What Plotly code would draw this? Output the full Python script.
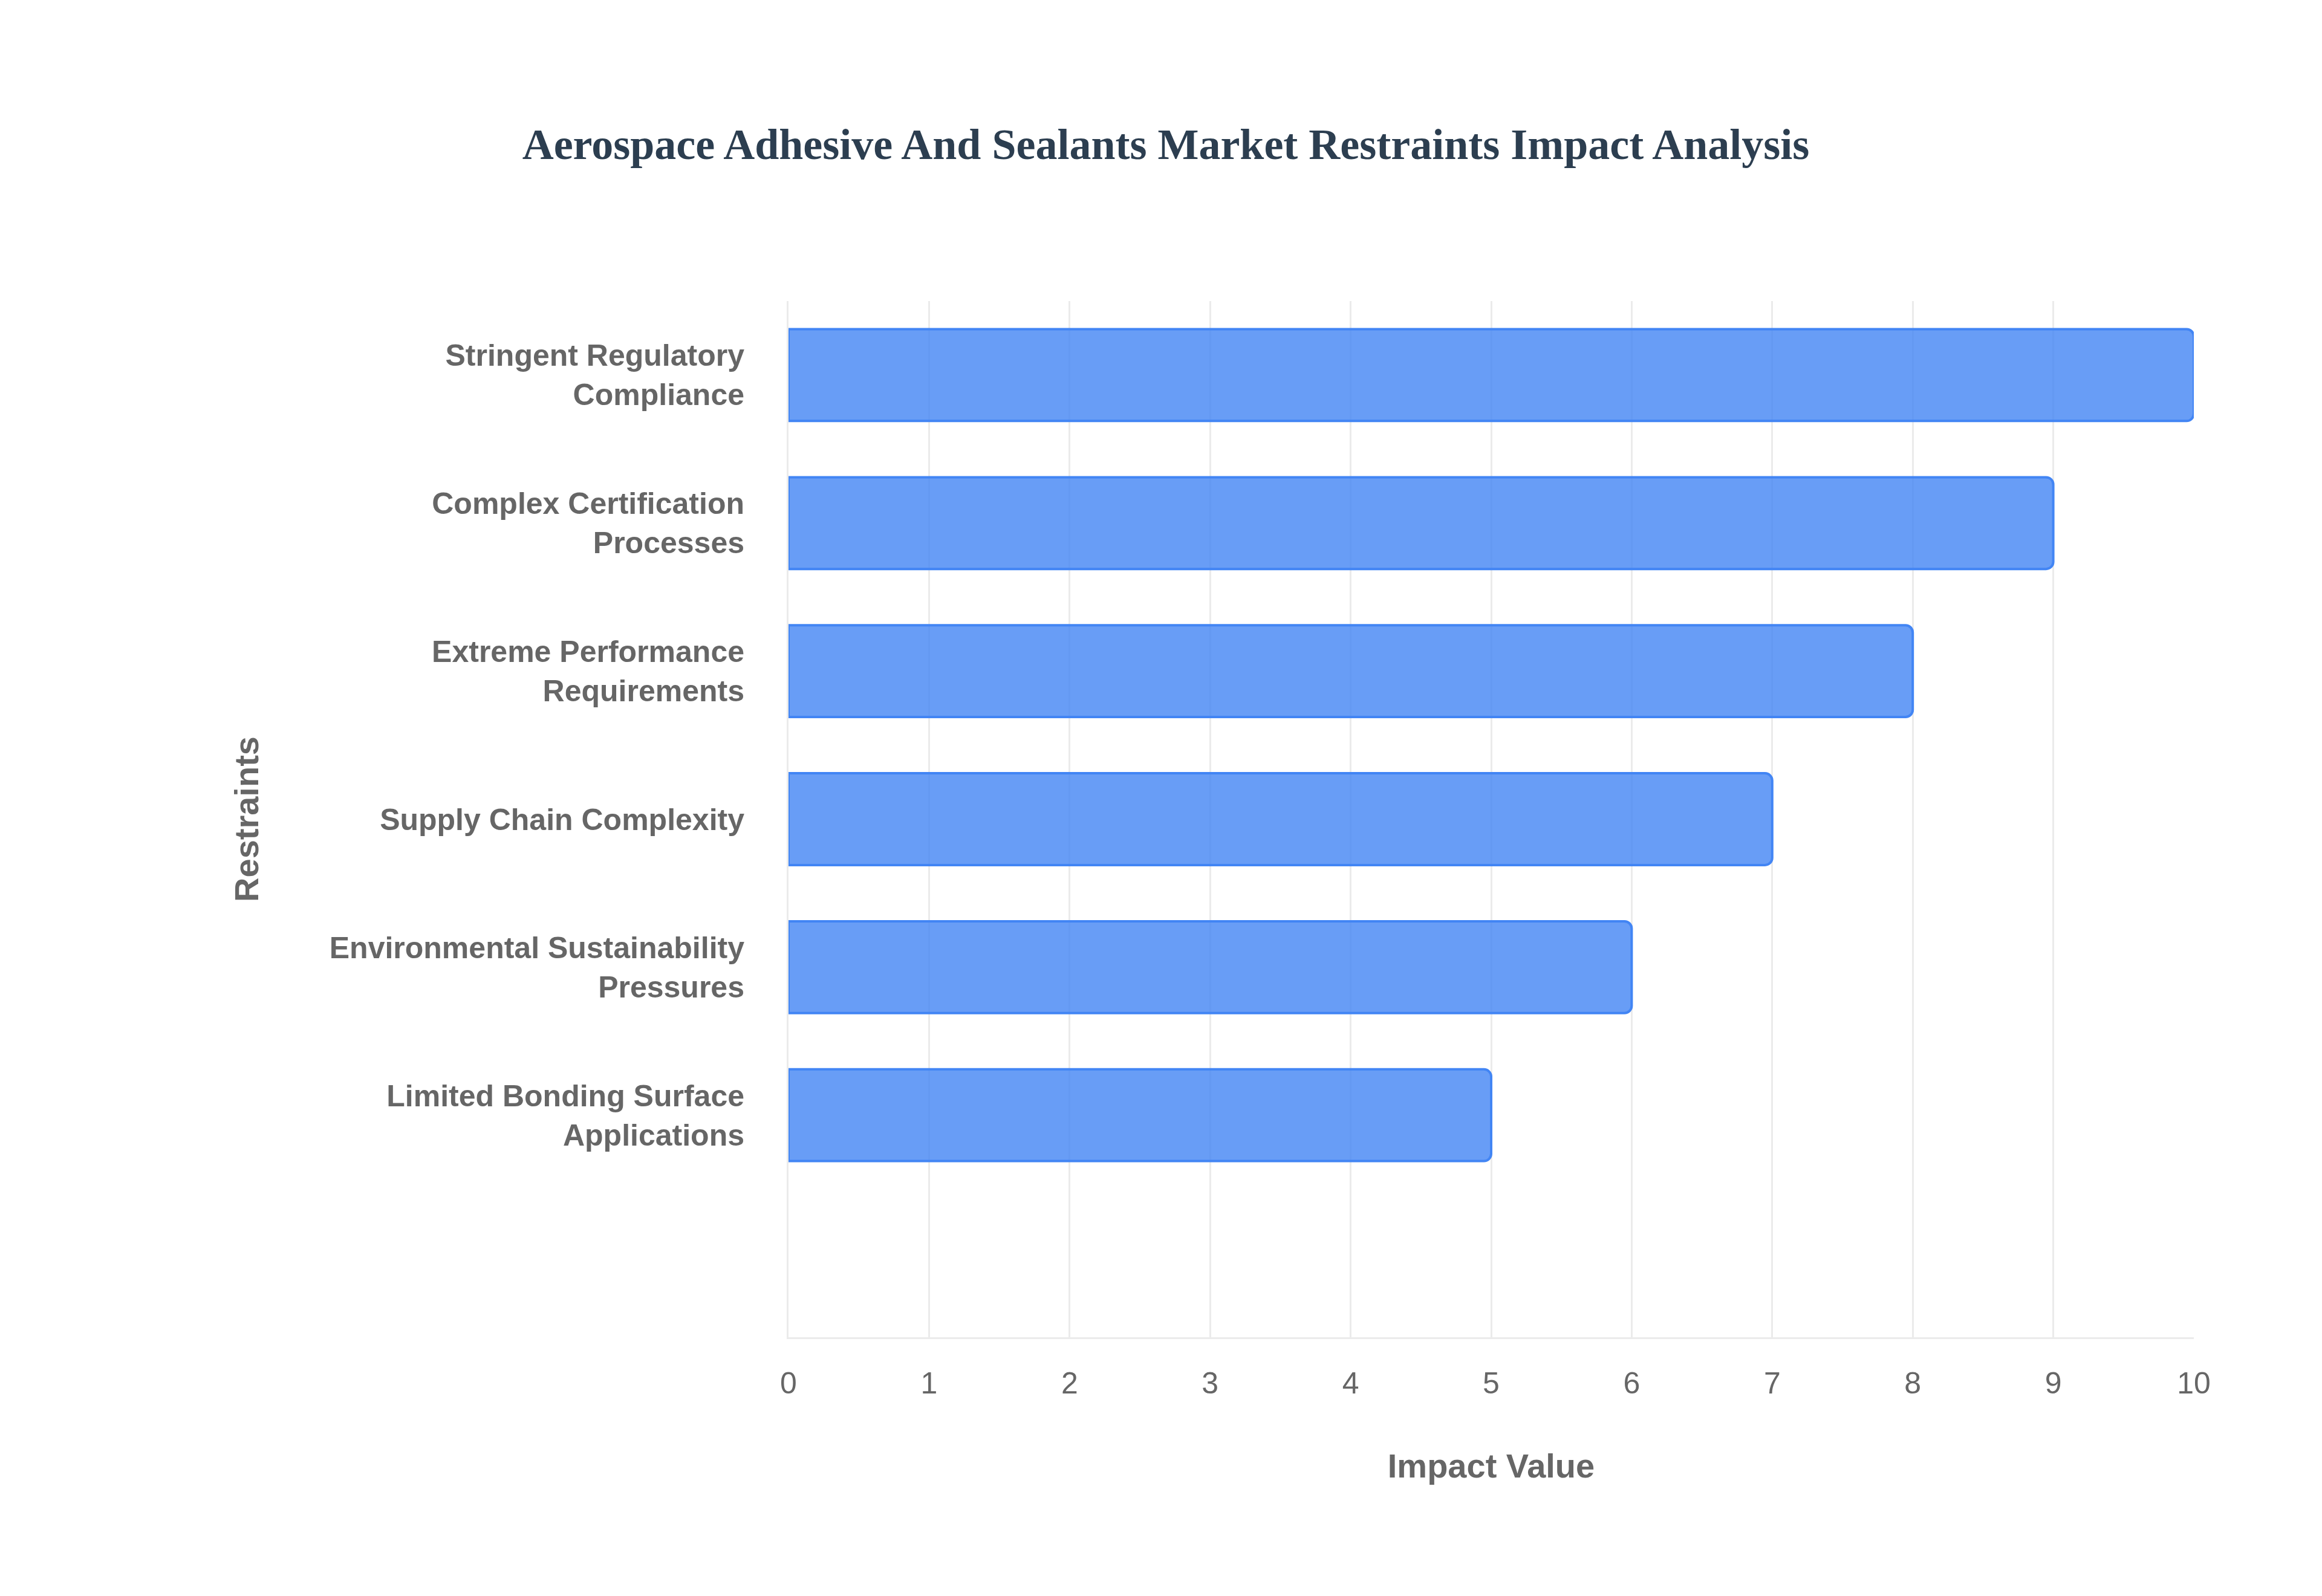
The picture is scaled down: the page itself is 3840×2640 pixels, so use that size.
import plotly.graph_objects as go

restraints = [
    "Stringent Regulatory<br>Compliance",
    "Complex Certification<br>Processes",
    "Extreme Performance<br>Requirements",
    "Supply Chain Complexity",
    "Environmental Sustainability<br>Pressures",
    "Limited Bonding Surface<br>Applications",
]
impact = [10, 9, 8, 7, 6, 5]

label_font = dict(family="Liberation Sans", size=50, color="#666666")

fig = go.Figure()
fig.add_trace(go.Bar(
    x=impact,
    y=list(range(len(restraints))),
    orientation="h",
    width=0.62,
    marker=dict(color="rgba(66,133,244,0.8)",
                line=dict(color="#4285f4", width=4),
                cornerradius=12),
))

fig.update_layout(
    width=3840,
    height=2640,
    template="simple_white",
    showlegend=False,
    margin=dict(l=1296, r=220, t=490, b=436),
    title=dict(text="<b>Aerospace Adhesive And Sealants Market Restraints Impact Analysis</b>",
               x=0.5, xanchor="center", y=0.913, yanchor="middle",
               font=dict(family="Liberation Serif", size=72, color="#2c3e50")),
)
fig.update_xaxes(
    range=[0, 10], dtick=1, showgrid=True, gridcolor="#ebebeb", gridwidth=3,
    showline=True, linecolor="#ebebeb", linewidth=3, ticks="", zeroline=False,
    tickfont=label_font, ticklabelstandoff=30,
    title=dict(text="<b>Impact Value</b>", font=dict(family="Liberation Sans", size=56, color="#666666"),
               standoff=90),
)
fig.update_yaxes(
    range=[6.5, -0.5], tickvals=list(range(len(restraints))), ticktext=["<b>" + r + "</b>" for r in restraints],
    showline=True, linecolor="#ebebeb", linewidth=3, ticks="", showgrid=False,
    tickfont=label_font, ticklabelstandoff=60,
    title=dict(text="<b>Restraints</b>", font=dict(family="Liberation Sans", size=56, color="#666666"),
               standoff=100),
)

fig.write_html("out.html")
